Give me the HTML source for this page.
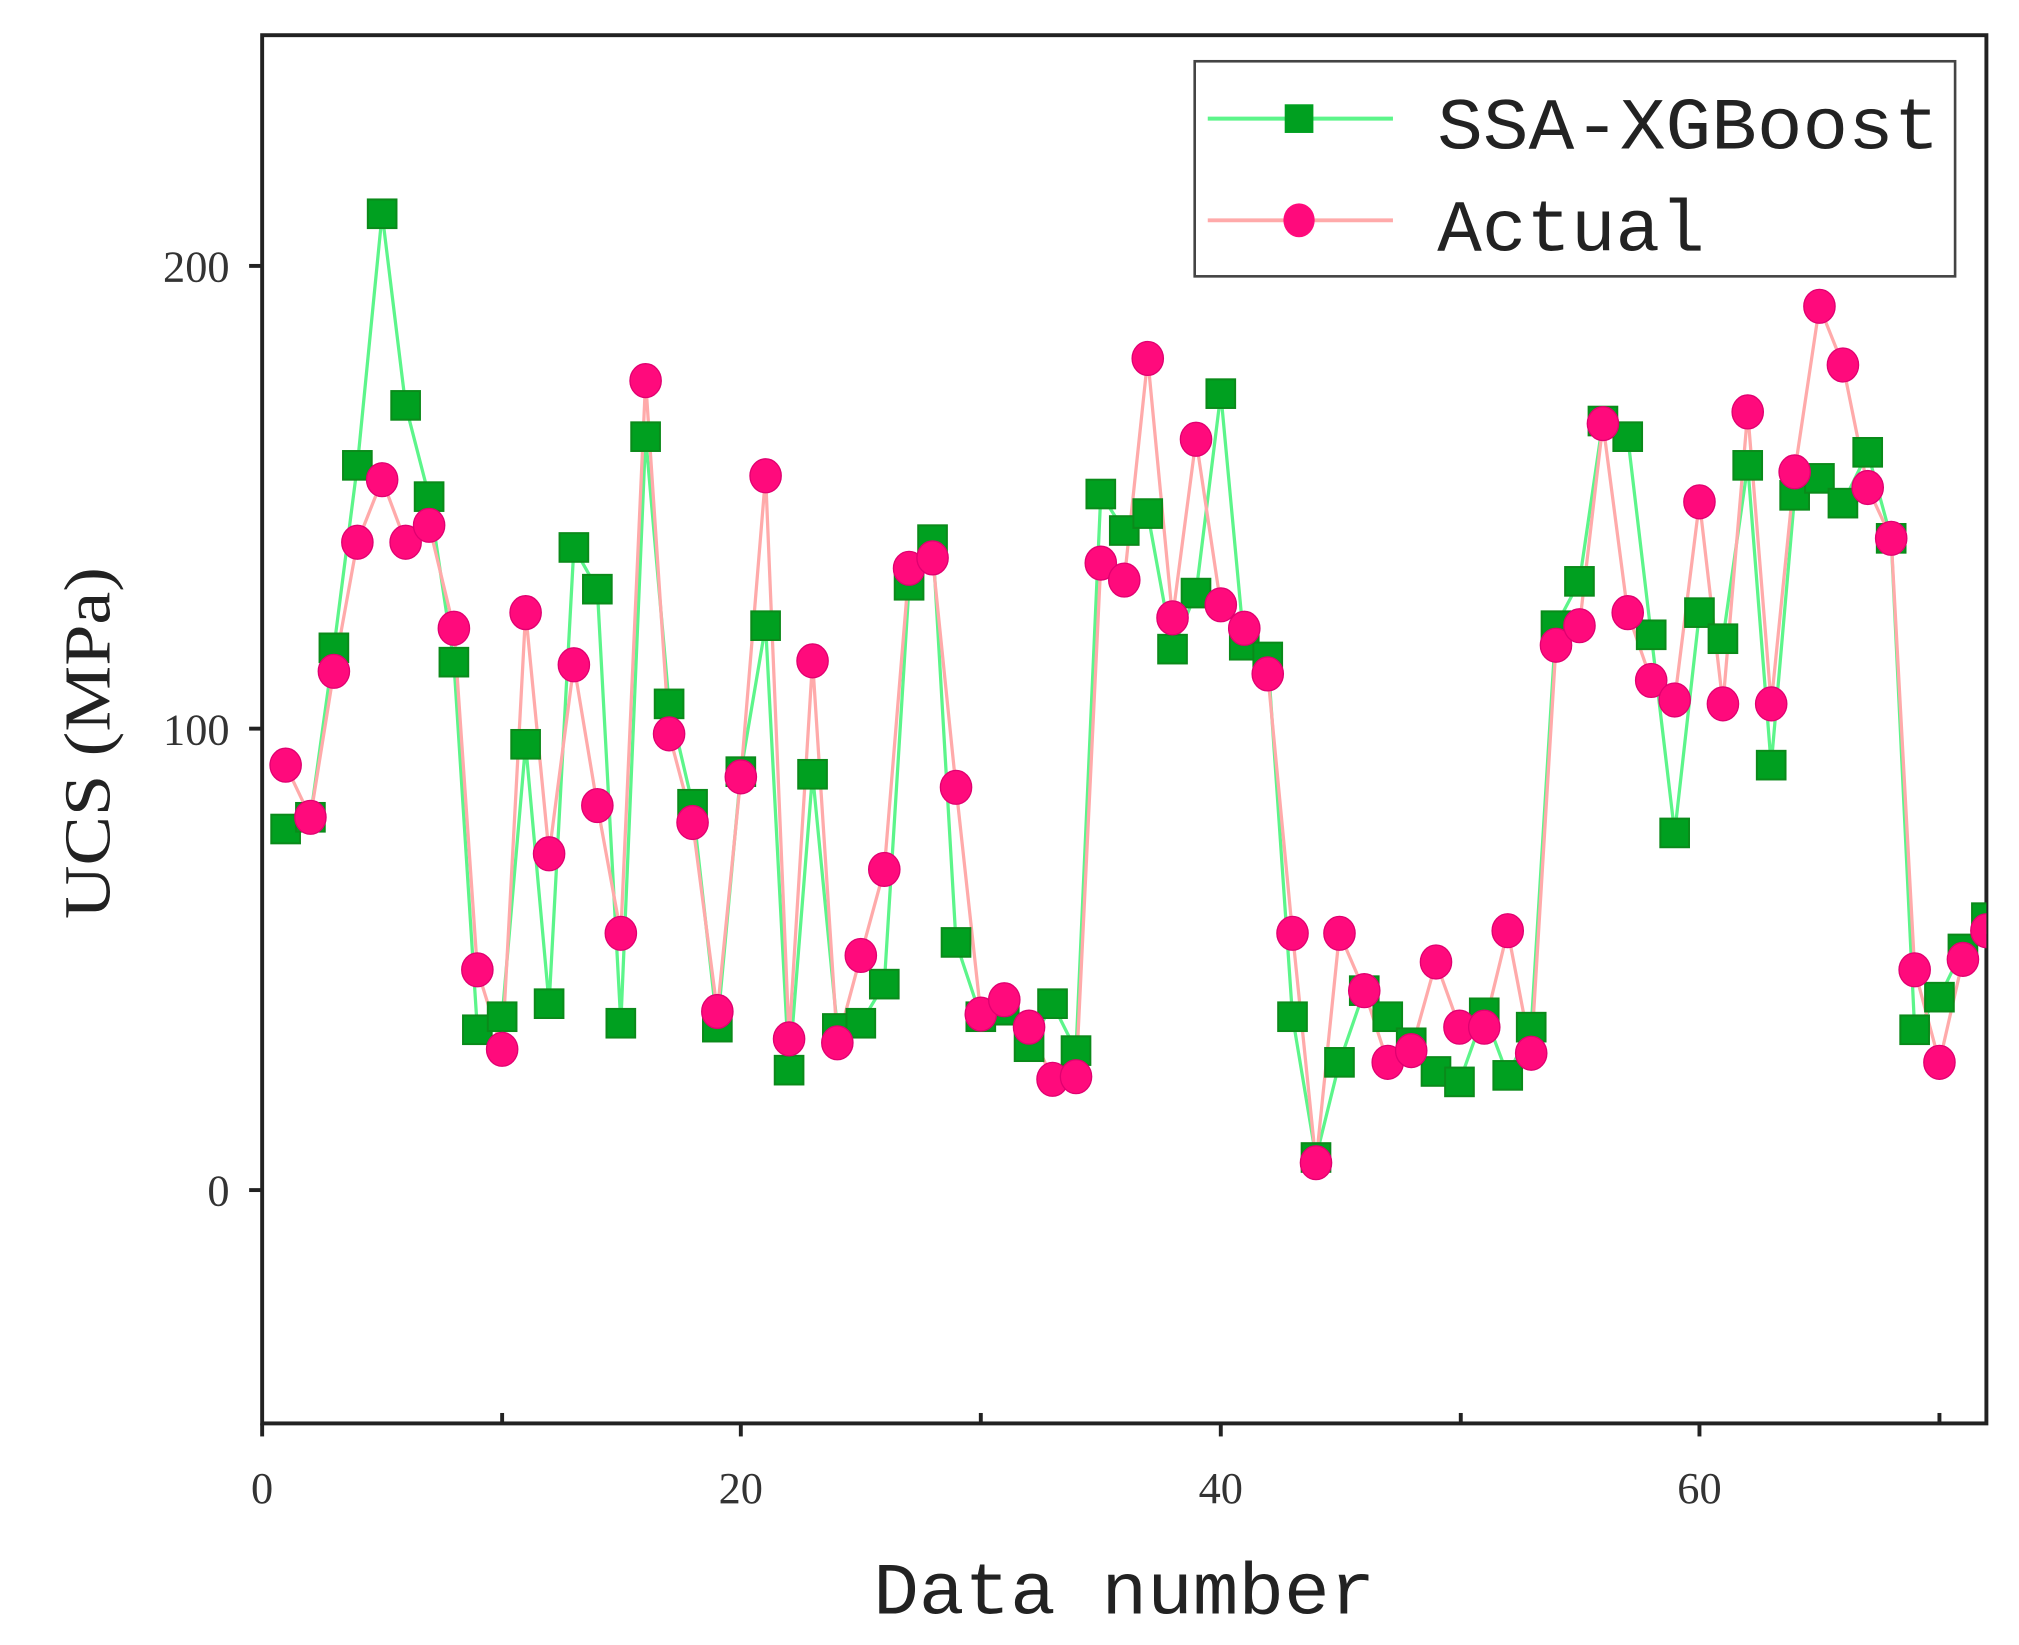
<!DOCTYPE html>
<html><head><meta charset="utf-8"><style>html,body{margin:0;padding:0;background:#fff}svg{display:block}</style></head>
<body>
<svg width="2019" height="1645" viewBox="0 0 1548 1262" preserveAspectRatio="none" xmlns="http://www.w3.org/2000/svg">
<rect width="1548" height="1262" fill="#fff"/>
<g stroke="#222" stroke-width="3" fill="none">
<rect x="201" y="27" width="1322" height="1065"/>
<line x1="191" y1="204" x2="201" y2="204"/><line x1="191" y1="559" x2="201" y2="559"/><line x1="191" y1="913" x2="201" y2="913"/>
<line x1="568" y1="1092" x2="568" y2="1102"/><line x1="936" y1="1092" x2="936" y2="1102"/><line x1="1303" y1="1092" x2="1303" y2="1102"/><line x1="201" y1="1092" x2="201" y2="1102"/>
<line x1="385" y1="1092" x2="385" y2="1084"/><line x1="752" y1="1092" x2="752" y2="1084"/><line x1="1120" y1="1092" x2="1120" y2="1084"/><line x1="1487" y1="1092" x2="1487" y2="1084"/>
</g>
<g font-family="Liberation Serif, serif" font-size="34" fill="#333">
<text x="176" y="216" text-anchor="end">200</text>
<text x="176" y="571" text-anchor="end">100</text>
<text x="176" y="925" text-anchor="end">0</text>
<text x="201" y="1153" text-anchor="middle">0</text>
<text x="568" y="1153" text-anchor="middle">20</text>
<text x="936" y="1153" text-anchor="middle">40</text>
<text x="1303" y="1153" text-anchor="middle">60</text>
</g>
<text x="862" y="1238" text-anchor="middle" font-family="Liberation Mono, monospace" font-size="56" textLength="385" lengthAdjust="spacingAndGlyphs" fill="#222">Data number</text>
<text transform="translate(84,570) rotate(-90)" text-anchor="middle" font-family="Liberation Serif, serif" font-size="50" textLength="270" lengthAdjust="spacingAndGlyphs" fill="#222">UCS (MPa)</text>
<svg x="201" y="27" width="1322" height="1065" viewBox="201 27 1322 1065" overflow="hidden">
<polyline fill="none" stroke="#5cf58a" stroke-width="2.5" points="219,636 238,627 256,497 274,357 293,164 311,311 329,381 348,508 366,790 385,780 403,571 421,770 440,420 458,452 476,785 495,335 513,540 531,617 550,788 568,592 587,480 605,821 623,594 642,789 660,785 678,755 697,449 715,414 733,723 752,780 770,775 789,803 807,770 825,806 844,379 862,407 880,394 899,498 917,455 936,302 954,495 972,504 991,780 1009,888 1027,815 1046,760 1064,780 1082,800 1101,822 1119,830 1138,777 1156,825 1174,788 1193,480 1211,446 1229,323 1248,335 1266,487 1284,639 1303,470 1321,490 1340,357 1358,587 1376,380 1395,367 1413,386 1432,347 1450,413 1468,790 1487,765 1505,728 1523,704"/>
<polyline fill="none" stroke="#ffaaaa" stroke-width="2.5" points="219,587 238,627 256,515 274,416 293,368 311,416 329,403 348,482 366,744 385,805 403,470 421,655 440,510 458,618 476,716 495,292 513,563 531,631 550,776 568,596 587,365 605,797 623,507 642,800 660,733 678,667 697,436 715,428 733,604 752,778 770,767 789,788 807,828 825,826 844,432 862,445 880,275 899,474 917,337 936,464 954,482 972,517 991,716 1009,892 1027,716 1046,760 1064,815 1082,806 1101,738 1119,788 1138,788 1156,714 1174,808 1193,495 1211,480 1229,325 1248,470 1266,522 1284,537 1303,385 1321,540 1340,316 1358,540 1376,362 1395,235 1413,280 1432,374 1450,413 1468,744 1487,815 1505,736 1523,714"/>
<g fill="#00a020" stroke="#0a8a1a" stroke-width="1.5" id="sq"></g>
<g fill="#ff0a7c" stroke="#e00070" stroke-width="1" id="ci"></g>
</svg>
<g stroke="#444" stroke-width="2" fill="#fff"><rect x="916" y="47" width="583" height="165"/></g>
<line x1="926" y1="91" x2="1068" y2="91" stroke="#5cf58a" stroke-width="3"/>
<rect x="985" y="80" width="22" height="22" fill="#00a020"/>
<line x1="926" y1="169" x2="1068" y2="169" stroke="#ffaaaa" stroke-width="3"/>
<ellipse cx="996" cy="169" rx="12" ry="13" fill="#ff0a7c"/>
<g font-family="Liberation Mono, monospace" font-size="56" fill="#222">
<text x="1102" y="114" textLength="385" lengthAdjust="spacingAndGlyphs">SSA-XGBoost</text>
<text x="1102" y="192" textLength="205" lengthAdjust="spacingAndGlyphs">Actual</text>
</g>
<script>
(function(){
var g="219,636 238,627 256,497 274,357 293,164 311,311 329,381 348,508 366,790 385,780 403,571 421,770 440,420 458,452 476,785 495,335 513,540 531,617 550,788 568,592 587,480 605,821 623,594 642,789 660,785 678,755 697,449 715,414 733,723 752,780 770,775 789,803 807,770 825,806 844,379 862,407 880,394 899,498 917,455 936,302 954,495 972,504 991,780 1009,888 1027,815 1046,760 1064,780 1082,800 1101,822 1119,830 1138,777 1156,825 1174,788 1193,480 1211,446 1229,323 1248,335 1266,487 1284,639 1303,470 1321,490 1340,357 1358,587 1376,380 1395,367 1413,386 1432,347 1450,413 1468,790 1487,765 1505,728 1523,704";
var a="219,587 238,627 256,515 274,416 293,368 311,416 329,403 348,482 366,744 385,805 403,470 421,655 440,510 458,618 476,716 495,292 513,563 531,631 550,776 568,596 587,365 605,797 623,507 642,800 660,733 678,667 697,436 715,428 733,604 752,778 770,767 789,788 807,828 825,826 844,432 862,445 880,275 899,474 917,337 936,464 954,482 972,517 991,716 1009,892 1027,716 1046,760 1064,815 1082,806 1101,738 1119,788 1138,788 1156,714 1174,808 1193,495 1211,480 1229,325 1248,470 1266,522 1284,537 1303,385 1321,540 1340,316 1358,540 1376,362 1395,235 1413,280 1432,374 1450,413 1468,744 1487,815 1505,736 1523,714";
var ns="http://www.w3.org/2000/svg";
var sq=document.getElementById("sq"),ci=document.getElementById("ci");
g.split(" ").forEach(function(p){var c=p.split(",");var r=document.createElementNS(ns,"rect");r.setAttribute("x",c[0]-11);r.setAttribute("y",c[1]-11);r.setAttribute("width",22);r.setAttribute("height",22);sq.appendChild(r);});
a.split(" ").forEach(function(p){var c=p.split(",");var e=document.createElementNS(ns,"ellipse");e.setAttribute("cx",c[0]);e.setAttribute("cy",c[1]);e.setAttribute("rx",12);e.setAttribute("ry",13);ci.appendChild(e);});
})();
</script>
</svg>
</body></html>
